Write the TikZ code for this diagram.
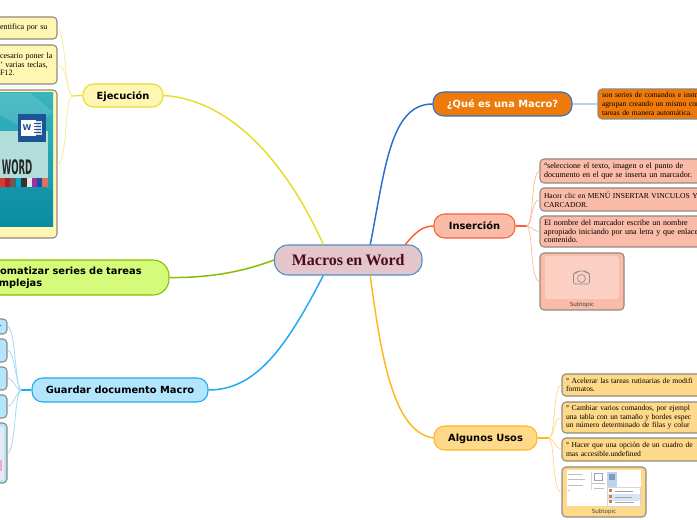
\documentclass[tikz,border=0pt]{standalone}
\usepackage{fontspec}
\setmainfont[WordSpace=0.8]{Liberation Serif}
\setsansfont{DejaVu Sans}
\usetikzlibrary{calc}
\definecolor{yelB}{HTML}{E9DC26}\definecolor{yelF}{HTML}{FFF6B4}\definecolor{yelL}{HTML}{F8EC90}
\definecolor{grnB}{HTML}{86BB00}\definecolor{grnF}{HTML}{D4FB7A}
\definecolor{bluB}{HTML}{1EAAF0}\definecolor{bluF}{HTML}{B3E5FC}\definecolor{bluL}{HTML}{98DAF8}
\definecolor{macB}{HTML}{2A6FD0}\definecolor{macF}{HTML}{EF7A0C}\definecolor{macL}{HTML}{B4D2F0}
\definecolor{insB}{HTML}{FF6030}\definecolor{insF}{HTML}{FABBA8}\definecolor{insL}{HTML}{FBBBA6}
\definecolor{algB}{HTML}{FFB81C}\definecolor{algF}{HTML}{FFD98A}\definecolor{algL}{HTML}{FFD98A}
\definecolor{rootF}{HTML}{E3C5CA}\definecolor{rootB}{HTML}{4A90C8}\definecolor{rootT}{HTML}{4A0A1E}
\definecolor{leafB}{HTML}{8F8A80}
\definecolor{tealTop}{HTML}{38B4BC}\definecolor{tealBot}{HTML}{0A94AC}
\definecolor{bandC}{HTML}{B2DDD8}\definecolor{wordB}{HTML}{1C5596}
\definecolor{s1}{HTML}{D83A30}\definecolor{s2}{HTML}{B02020}\definecolor{s3}{HTML}{6A5A5A}
\definecolor{s4}{HTML}{00A8D0}\definecolor{s5}{HTML}{333333}\definecolor{s6}{HTML}{E6E6E6}
\definecolor{s7}{HTML}{A030A0}\definecolor{s8}{HTML}{1A50A0}\definecolor{s9}{HTML}{B4BCC4}\definecolor{s10}{HTML}{E07060}
\definecolor{gImg}{HTML}{E8EAF2}\definecolor{gPink}{HTML}{F0A8D8}
\definecolor{camF}{HTML}{FBD0C2}
\definecolor{mA}{HTML}{BDD4EE}\definecolor{mB}{HTML}{7C9CC4}\definecolor{mC}{HTML}{D8E4F2}
\definecolor{mD}{HTML}{D6D6D6}\definecolor{mE}{HTML}{9AA4B0}\definecolor{mF}{HTML}{D08050}
\newcommand{\topicbox}[7]{% style, name, x0,y0,x1,y1, text
  \pgfmathsetmacro{\cxx}{(#3+#5)/2}\pgfmathsetmacro{\cyy}{(#4+#6)/2}
  \pgfmathsetmacro{\wdd}{(#5-#3)*0.75}\pgfmathsetmacro{\htt}{(#6-#4)*0.75}
  \node[#1,minimum width=\wdd pt,minimum height=\htt pt] (#2) at (\cxx,\cyy) {#7};}
\newcommand{\leafbox}[7]{%
  \pgfmathsetmacro{\cxx}{(#3+#5)/2}\pgfmathsetmacro{\cyy}{(#4+#6)/2}
  \pgfmathsetmacro{\wdd}{(#5-#3)*0.75}\pgfmathsetmacro{\htt}{(#6-#4)*0.75}
  \pgfmathsetmacro{\twd}{(#5-#3)*0.75-6}
  \node[leafnode,#1,minimum width=\wdd pt,minimum height=\htt pt,text width=\twd pt] (#2) at (\cxx,\cyy) {#7};}
\tikzset{
  topicnode/.style={draw,line width=0.8pt,rounded corners=8pt,inner sep=0pt,font=\sffamily\bfseries\fontsize{7.4}{9}\selectfont,align=center},
  oneline/.style={text height=8pt,text depth=2pt},
  leafnode/.style={draw=leafB,line width=0.8pt,rounded corners=3pt,inner xsep=3pt,inner ysep=0pt,align=left,text=black,font=\fontsize{6.05}{6.5}\selectfont},
  tightleaf/.style={font=\fontsize{5.7}{6.5}\selectfont},
  maincon/.style={line width=1.1pt},
  thincon/.style={line width=0.55pt},
  subcap/.style={font=\sffamily\fontsize{4.2}{5}\selectfont,text=black!75,inner sep=0pt}
}
\begin{document}
\begin{tikzpicture}[x=0.75pt,y=-0.75pt]
\useasboundingbox (0,0) rectangle (697,520);
\clip (0,0) rectangle (697,520);
\fill[white] (0,0) rectangle (697,520);

% topics
\topicbox{topicnode,fill=rootF,draw=rootB,rounded corners=10pt,text=rootT,font=\rmfamily\bfseries\fontsize{12}{14}\selectfont}{root}{274.5}{245}{422}{275}{Macros en Word}
\topicbox{topicnode,oneline,fill=yelF,draw=yelB}{eje}{83}{84}{163}{107}{Ejecución}
\topicbox{topicnode,fill=grnF,draw=grnB,rounded corners=12pt,text width=185pt,align=left,font=\sffamily\bfseries\fontsize{7.4}{9}\selectfont}{auto}{-82}{260}{169}{295}{\rule{0pt}{7pt}\hspace*{60pt}omatizar series de tareas\\\hspace*{59pt}mplejas\rule[-1.8pt]{0pt}{1.8pt}}
\topicbox{topicnode,oneline,fill=bluF,draw=bluB}{gua}{32}{378}{208}{402}{Guardar documento Macro}
\topicbox{topicnode,oneline,fill=macF,draw=macB,text=white}{mac}{433}{92}{572}{116}{¿Qué es una Macro?}
\topicbox{topicnode,oneline,fill=insF,draw=insB}{ins}{434}{214}{515}{238}{Inserción}
\topicbox{topicnode,oneline,fill=algF,draw=algB}{alg}{434}{426}{537}{450}{Algunos Usos}

% leaves: Ejecucion
\leafbox{fill=yelF}{e1}{-4}{17}{57}{39}{entifica por su}
\leafbox{fill=yelF}{e2}{-4}{45}{57}{84}{cesario poner la\\' varias teclas,\\F12.}
\leafbox{fill=yelF}{e3}{-4}{90}{57}{238}{}
% leaves: Guardar
\leafbox{fill=bluF}{g1}{-60}{319}{7}{334}{\hspace*{42pt}.}
\leafbox{fill=bluF}{g2}{-60}{339}{7}{362}{}
\leafbox{fill=bluF}{g3}{-60}{367}{7}{390}{}
\leafbox{fill=bluF}{g4}{-60}{395}{7}{418}{}
\leafbox{fill=bluF}{g5}{-60}{423}{7}{483}{}
% leaf: Macro
\leafbox{fill=macF,tightleaf}{m1}{598}{89}{780}{119}{son series de comandos e instr\\agrupan creando un mismo con\\tareas de manera automática.}
% leaves: Insercion
\leafbox{fill=insF}{i1}{540}{159}{780}{183}{°seleccione el texto, imagen o el punto de\\documento en el que se inserta un marcador.}
\leafbox{fill=insF,tightleaf}{i2}{540}{188}{780}{211}{Hacer clic en MENÚ INSERTAR VINCULOS Y\\CARCADOR.}
\leafbox{fill=insF}{i3}{540}{216}{780}{247}{El nombre del marcador escribe un nombre\\apropiado iniciando por una letra y que enlace\\contenido.}
\leafbox{fill=insF}{i4}{540}{253}{624}{310}{}
% leaves: Usos
\leafbox{fill=algF,tightleaf}{a1}{562}{374}{780}{396}{° Acelerar las tareas rutinarias de modifi\\formatos.}
\leafbox{fill=algF,tightleaf}{a2}{562}{402}{780}{433}{° Cambiar varios comandos, por ejempl\\una tabla con un tamaño y bordes espec\\un número determinado de filas y colur}
\leafbox{fill=algF,tightleaf}{a3}{562}{438}{780}{461}{° Hacer que una opción de un cuadro de\\mas accesible.undefined}
\leafbox{fill=algF}{a4}{562}{467}{646}{517}{}

% main connectors
\draw[maincon,yelB] ($(root.north)+(-25,0)$) .. controls (290,170) and (235,100) .. (eje.east);
\draw[maincon,grnB] (root.west) .. controls (240,273) and (205,278) .. (auto.east);
\draw[maincon,bluB] ($(root.south)+(-25,0)$) .. controls (285,350) and (255,390) .. (gua.east);
\draw[maincon,macB] ($(root.north)+(22,0)$) .. controls (385,170) and (390,104) .. (mac.west);
\draw[maincon,insB] ($(root.north)+(57,0)$) .. controls (415,233) and (422,226) .. (ins.west);
\draw[maincon,algB] ($(root.south)+(22,0)$) .. controls (382,365) and (395,432) .. (alg.west);

% branch points
\coordinate (ejeJ) at (72,96);
\coordinate (guaJ) at (21,390);
\coordinate (insJ) at (527,226);
\coordinate (algJ) at (549,438);
\draw[yelB,line width=0.8pt] (eje.west) -- (ejeJ);
\draw[bluB,line width=0.8pt] (gua.west) -- (guaJ);
\draw[insB,line width=0.8pt] (ins.east) -- (insJ);
\draw[algB,line width=0.8pt] (alg.east) -- (algJ);
\draw[line width=1pt,macL] (mac.east) -- (m1.west);

% thin connectors
\begin{scope}[thincon,yelL]
\draw (ejeJ) .. controls (64,90) and (66,32) .. (e1.east |- 0,28);
\draw (ejeJ) .. controls (66,90) and (68,66) .. (e2.east |- 0,65);
\draw (ejeJ) .. controls (64,100) and (68,160) .. (e3.east |- 0,165);
\end{scope}
\begin{scope}[thincon,bluL]
\draw (guaJ) .. controls (15,388) and (16,330) .. (g1.east |- 0,326);
\draw (guaJ) .. controls (16,386) and (15,352) .. (g2.east |- 0,350);
\draw (guaJ) .. controls (16,390) and (13,378) .. (g3.east |- 0,378);
\draw (guaJ) .. controls (16,392) and (14,406) .. (g4.east |- 0,406);
\draw (guaJ) .. controls (14,394) and (16,450) .. (g5.east |- 0,453);
\end{scope}
\begin{scope}[thincon,insL]
\draw (insJ) .. controls (534,222) and (531,172) .. (i1.west);
\draw (insJ) .. controls (533,224) and (531,200) .. (i2.west);
\draw (insJ) .. controls (532,227) and (535,232) .. (i3.west);
\draw (insJ) .. controls (533,230) and (530,280) .. (i4.west);
\end{scope}
\begin{scope}[thincon,algL]
\draw (algJ) .. controls (556,434) and (553,385) .. (a1.west);
\draw (algJ) .. controls (555,436) and (553,418) .. (a2.west);
\draw (algJ) .. controls (554,439) and (556,449) .. (a3.west);
\draw (algJ) .. controls (555,442) and (552,492) .. (a4.west);
\end{scope}

% Word cover image
\shade[top color=tealTop,bottom color=tealBot] (0,93) rectangle (53,227);
\fill[white,opacity=0.12] (0,93) -- (30,93) -- (53,112) -- (30,131) -- (0,115) -- cycle;
\fill[black,opacity=0.05] (0,178) -- (53,190) -- (53,227) -- (0,227) -- cycle;
\fill[bandC] (0,131) rectangle (48,178);
\foreach \aa/\bb/\cc in {0/5/s1,5/10/s2,10/16/s3,16/21/s4,21/27/s5,27/32/s6,32/37/s7,37/42/s8,42/48/s10}{
  \fill[\cc] (\aa,178) rectangle (\bb,187);}
\fill[wordB] (18,114) rectangle (46,142);
\fill[white] (21,120) rectangle (36,136);
\fill[white,opacity=0.8] (33,121) rectangle (42,135);
\foreach \yy in {123,126,129,132}{\draw[wordB,line width=0.3pt] (34,\yy) -- (41,\yy);}
\node[font=\sffamily\bfseries\fontsize{6}{7}\selectfont,text=wordB,inner sep=0pt] (wordW) at (27,128) {W};
\node[font=\sffamily\bfseries\fontsize{15}{16}\selectfont,text=black!85,inner sep=0pt,anchor=east,xscale=0.43] (wordT) at (32.5,167.5) {WORD};

% Guardar image
\fill[gImg] (0,427) rectangle (4,480);
\fill[gPink] (0,460) rectangle (2,471);

% Camera placeholder
\fill[camF,rounded corners=2pt] (545,256) rectangle (619,299);
\draw[black!45,line width=0.5pt,rounded corners=1.5pt] (573.5,273) -- (576.5,273) -- (578,271) -- (585,271) -- (586.5,273) -- (589.5,273) -- (589.5,284) -- (573.5,284) -- cycle;
\draw[black!45,line width=0.5pt] (581.5,278.5) circle (4);
\node[subcap] (cap1) at (582,305) {Subtopic};

% Menu screenshot
\fill[white] (567,470) rectangle (641,506);
\fill[mA] (607,472) rectangle (617,487);
\fill[mB] (609,474) rectangle (615,480);
\fill[mC] (607,494) rectangle (640,501);
\draw[mD,line width=0.3pt] (607,487) rectangle (640,506);
\draw[mD,line width=0.3pt] (591,472) -- (591,490);
\draw[mE,line width=0.5pt] (594,473) rectangle (602,480);
\foreach \yy/\aa/\bb in {474/568/582,479/568/585,485/568/583,490/568/570,483/592/605,488/594/604}{\draw[black!25,line width=0.4pt] (\aa,\yy) -- (\bb,\yy);}
\foreach \yy/\bb in {491/633,497/632,502/634}{\draw[black!35,line width=0.4pt] (615,\yy) -- (\bb,\yy);\fill[mF] (609,\yy-1.5) rectangle (612,\yy+1.5);}
\node[subcap] (cap2) at (604,511.5) {Subtopic};
\end{tikzpicture}
\end{document}
